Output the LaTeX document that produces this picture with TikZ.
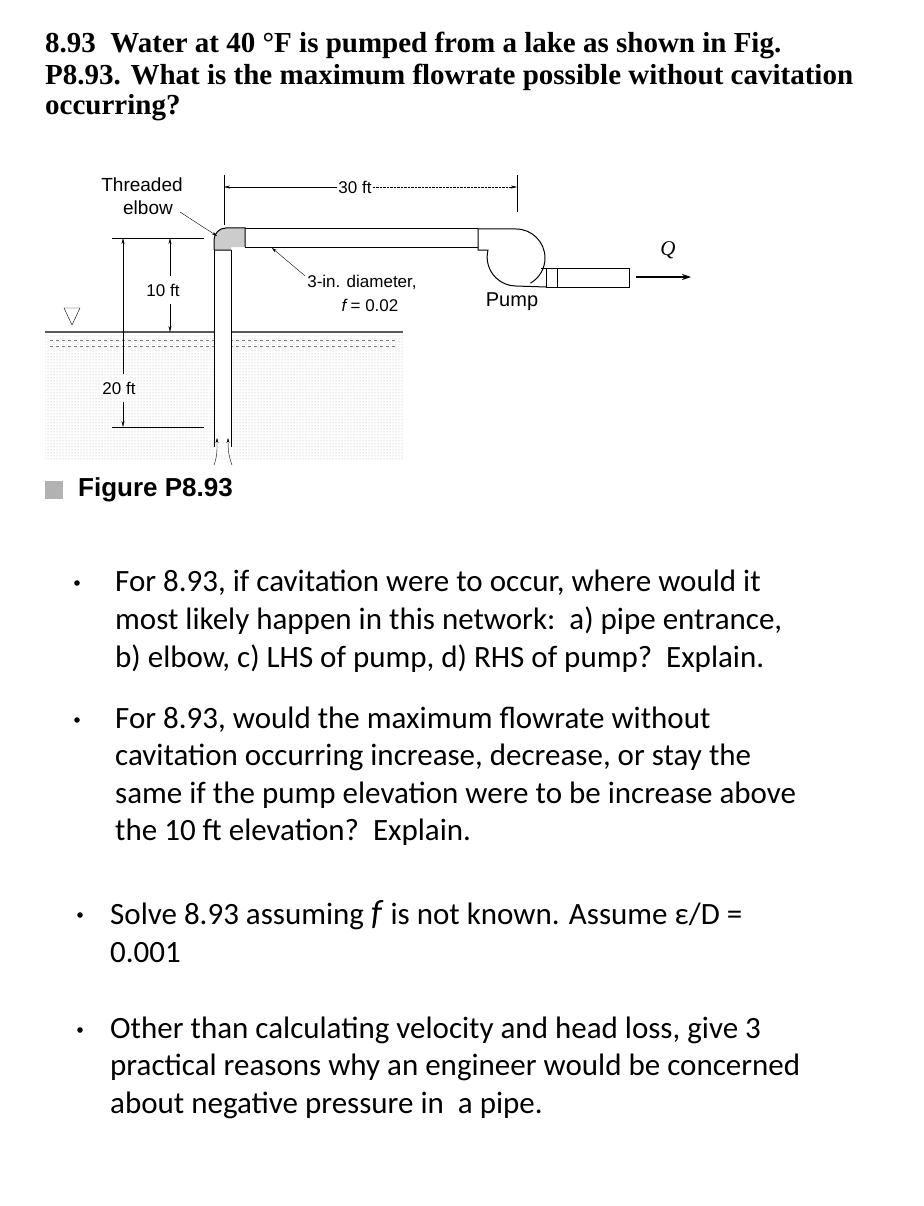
\documentclass[tikz,border=0pt]{standalone}
\usepackage{fontspec}
\setmainfont{Liberation Serif}
\newfontfamily\calfnt{Carlito}
\newfontfamily\hvfnt{Liberation Sans}
\usetikzlibrary{patterns,arrows.meta}
\begin{document}
\begin{tikzpicture}[x=1pt,y=-1pt,
  hdr/.style={anchor=west,inner sep=0,font=\fontsize{29}{30}\selectfont\bfseries},
  bul/.style={anchor=west,inner sep=0,font=\calfnt\fontsize{31}{33}\selectfont},
  lbl/.style={inner sep=0,font=\hvfnt\fontsize{17}{18}\selectfont},
  dim/.style={thin,-{Stealth[length=6pt,width=3pt]}},
  pipe/.style={line width=1pt}]
\useasboundingbox (0,0) rectangle (923,1206);
\fill[white] (0,0) rectangle (923,1206);
% header
\node[hdr] (h1) at (45,45) {8.93\ \ Water at 40 \textdegree F is pumped from a lake as shown in Fig.};
\node[hdr] (h2) at (45,77) {P8.93. What is the maximum flowrate possible without cavitation};
\node[hdr] (h3) at (45,108) {occurring?};
% lake
\fill[pattern=dots,pattern color=gray!60] (45,334) rectangle (403,460);
\draw[line width=1.2pt,gray!70!black] (45,332) -- (403,332);
\foreach \y in {340,346}{\draw[gray,dashed,line width=1pt] (50,\y) -- (398,\y);}
\draw[thin] (64,308) -- (80,308) -- (72,325) -- cycle;
% vertical pipe
\fill[white] (214,250) rectangle (231,453);
\draw[pipe] (214,250) -- (214,447) (231,250) -- (231,447);
\draw[thin,-{Stealth[length=5pt,width=3pt]}] (214,465) to[out=70,in=-90] (217,438);
\draw[thin,-{Stealth[length=5pt,width=3pt]}] (232,465) to[out=110,in=-90] (228,438);
% elbow
\fill[gray!40] (214,250) -- (214,240) arc[start angle=180,end angle=270,radius=12] -- (245,228) -- (245,247) -- (231,247) -- (231,250) -- cycle;
\draw[pipe] (214,250) -- (214,240) arc[start angle=180,end angle=270,radius=12] -- (245,228) -- (245,247) (214,250) -- (231,250);
% horizontal pipe
\draw[pipe] (245,229) -- (478,229) (245,247) -- (478,247);
% pump
\draw[pipe] (478,229) -- (516,229) arc[start angle=-90,end angle=60,radius=29];
\draw[pipe] (478,229) -- (478,250) -- (488,250) arc[start angle=194,end angle=90,radius=29] -- (546,287);
\draw[pipe] (541,268) -- (546,268) (546,268) rectangle (629,287);
\draw[thin] (557,268) -- (557,287);
\draw[line width=1.2pt,-{Stealth[length=9pt,width=6pt]}] (636,277) -- (691,277);
\node[font=\itshape\fontsize{21}{22}\selectfont] (Q) at (668,250) {Q};
\node[lbl,font=\hvfnt\fontsize{20}{20}\selectfont] (pl) at (512,302) {Pump};
% dims
\draw[thin] (224,175) -- (224,225) (517,175) -- (517,212);
\node[lbl,fill=white,inner sep=1pt] (d30) at (355,187) {30 ft};
\draw[dim] (d30.west) -- (224,187);
\draw[dim,densely dotted] (d30.east) -- (517,187);
\draw[thin] (112,238) -- (204,238) (112,427) -- (204,427);
\node[lbl,fill=white,inner sep=1pt] (d10) at (163,290) {10 ft};
\draw[dim] (170,276) -- (170,238);
\draw[dim] (170,304) -- (170,332);
\node[lbl,fill=white,inner sep=1pt] (d20) at (119,388) {20 ft};
\draw[dim] (123,374) -- (123,238);
\draw[dim] (123,402) -- (123,427);
\node[lbl,font=\hvfnt\fontsize{19}{20}\selectfont] (te1) at (142,185) {Threaded};
\node[lbl,font=\hvfnt\fontsize{19}{20}\selectfont] (te2) at (148,208) {elbow};
\draw[thin,-{Stealth[length=5pt,width=3pt]}] (180,212) -- (217,236);
\node[lbl] (dia) at (362,282) {3-in. diameter,};
\node[lbl] (ff) at (370,305) {\textit{f}\,= 0.02};
\draw[thin,-{Stealth[length=5pt,width=3pt]}] (dia.west) ++(-2,-6) -- (272,248);
% caption
\fill[gray!60] (45,481) rectangle (63,499);
\node[anchor=west,inner sep=0,font=\hvfnt\bfseries\fontsize{26}{28}\selectfont] (cap) at (78,490) {Figure P8.93};
% bullets
\foreach \x/\y in {77/583,77/720,80/915,80/1030}{\fill (\x,\y) circle (2.8);}
\node[bul] at (115,583) {For 8.93, if cavitation were to occur, where would it};
\node[bul] at (115,621) {most likely happen in this network:\ \ a) pipe entrance,};
\node[bul] at (115,659) {b) elbow, c) LHS of pump, d) RHS of pump?\ \ Explain.};
\node[bul] at (115,720) {For 8.93, would the maximum flowrate without};
\node[bul] at (115,757) {cavitation occurring increase, decrease, or stay the};
\node[bul] at (115,795) {same if the pump elevation were to be increase above};
\node[bul] at (115,832) {the 10 ft elevation?\ \ Explain.};
\node[bul] at (110,915) {Solve 8.93 assuming \textit{\fontsize{35}{36}\selectfont f} is not known. Assume ε/D =};
\node[bul] at (110,953) {0.001};
\node[bul] at (110,1030) {Other than calculating velocity and head loss, give 3};
\node[bul] at (110,1067) {practical reasons why an engineer would be concerned};
\node[bul] at (110,1105) {about negative pressure in\ \ a pipe.};
\end{tikzpicture}
\end{document}
